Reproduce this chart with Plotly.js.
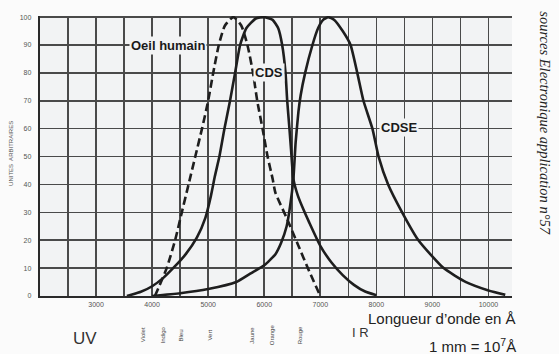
<!DOCTYPE html>
<html>
<head>
<meta charset="utf-8">
<script src="https://cdn.plot.ly/plotly-3.0.1.min.js"></script>
<style>
  html, body { margin: 0; padding: 0; background: #fbfbfb; }
  #chart { width: 559px; height: 354px; }
</style>
</head>
<body>
<div id="chart"></div>
<script>
// ---- data (wavelength in Å, relative response in arbitrary units) ----
const oeilWavelengths = [4050, 4260, 4410, 4530, 4650, 4770, 4890, 5000, 5090, 5190, 5300, 5450, 5590, 5700, 5800, 5875, 5970, 6060, 6150, 6200, 6400, 6600, 6800, 7000];
const oeilValues      = [0,    10,   20,   30,   40,   50,   60,   70,   80,   90,   97,   100,  97,   90,   80,   70,   60,   50,   42,   37,   28,   18.5, 9,    0];

const cdsWavelengths = [3550, 3800, 4000, 4200, 4400, 4600, 4800, 4950, 5050, 5120, 5200, 5290, 5390, 5480, 5570, 5680, 5850, 6000, 6150, 6250, 6320, 6380, 6410, 6450, 6480, 6520, 6600, 6700, 6800, 7000, 7200, 7400, 7600, 7800, 8000];
const cdsValues      = [0,    1.5,  3.5,  6.5,  10.5, 15,   21,   28,   36,   43,   50,   60,   70,   80,   90,   96,   99.5, 100,  99,   96,   90,   80,   70,   60,   52,   42,   36,   31,   26.5, 18,   12,   7.5,  4,    1.6,  0.3];

const cdseWavelengths = [4000, 4500, 5000, 5500, 5750, 6000, 6200, 6300, 6400, 6460, 6520, 6560, 6610, 6650, 6730, 6860, 6960, 7050, 7140, 7250, 7400, 7540, 7660, 7770, 7930, 8040, 8210, 8460, 8750, 9200, 9600, 10000, 10300];
const cdseValues      = [0,    1,    2.5,  5,    8,    11,   15,   19,   25,   32,   42,   55,   66,   72,   80,   90,   96,   99,   100,  99,   95,   90,   80,   70,   60,   50,   40,   30,   20,   10,   5,    2,     0.4];

const xTickVals = [2500, 3000, 3500, 4000, 4500, 5000, 5500, 6000, 6500, 7000, 7500, 8000, 8500, 9000, 9500, 10000];
const xTickText = [' ', '3000', ' ', '4000', ' ', '5000', ' ', '6000', ' ', '7000', ' ', '8000', ' ', '9000', ' ', '10000'];
const yTickVals = [0, 10, 20, 30, 40, 50, 60, 70, 80, 90, 100];
const yTickText = ['0', '10', '20', '30', '40', '50', '60', '70', '80', '90', '100'];

const colourNames       = ['Violet', 'Indigo', 'Bleu', 'Vert', 'Jaune', 'Orange', 'Rouge'];
const colourWavelengths = [3840, 4200, 4520, 5040, 5790, 6140, 6640];

const curveLabels     = ['Oeil humain', 'CDS', 'CDSE'];
const curveLabelX     = [4290, 6090, 8410];
const curveLabelY     = [90, 80, 60.5];

// ---- traces ----
const lineCol = '#1e1e1e';
const traces = [
  { x: oeilWavelengths, y: oeilValues, type: 'scatter', mode: 'lines', name: 'Oeil humain',
    line: { color: lineCol, width: 2.6, dash: '8px,4px', shape: 'spline', smoothing: 0.6 } },
  { x: cdsWavelengths, y: cdsValues, type: 'scatter', mode: 'lines', name: 'CDS',
    line: { color: lineCol, width: 2.6, shape: 'spline', smoothing: 0.5 } },
  { x: cdseWavelengths, y: cdseValues, type: 'scatter', mode: 'lines', name: 'CDSE',
    line: { color: lineCol, width: 2.6, shape: 'spline', smoothing: 0.5 } }
];

// ---- annotations ----
const sans = 'Liberation Sans, Arial, sans-serif';
const annotations = [];
curveLabels.forEach((t, i) => {
  annotations.push({ x: curveLabelX[i], y: curveLabelY[i], xref: 'x', yref: 'y', text: t, showarrow: false,
    xanchor: 'center', yanchor: 'middle',
    font: { family: sans, size: 13, color: '#1a1a1a', weight: 'bold' },
    bgcolor: '#f2f3f4', borderpad: 1 });
});
colourNames.forEach((t, i) => {
  annotations.push({ x: colourWavelengths[i], y: -0.14, xref: 'x', yref: 'paper', text: t, showarrow: false,
    xanchor: 'center', yanchor: 'middle',
    textangle: -90, font: { family: sans, size: 6, color: '#444' } });
});
annotations.push(
  { x: 0.095, y: -0.15, xref: 'paper', yref: 'paper', xanchor: 'center', yanchor: 'middle', text: 'UV', showarrow: false,
    font: { family: sans, size: 17, color: '#333' } },
  { x: 0.678, y: -0.132, xref: 'paper', yref: 'paper', xanchor: 'center', yanchor: 'middle', text: 'I R', showarrow: false,
    font: { family: sans, size: 13, color: '#333' } },
  { x: 1.013, y: -0.08, xref: 'paper', yref: 'paper', xanchor: 'right', yanchor: 'middle', text: 'Longueur d\u2019onde en \u00C5', showarrow: false,
    font: { family: sans, size: 15, color: '#222' } },
  { x: 1.013, y: -0.175, xref: 'paper', yref: 'paper', xanchor: 'right', yanchor: 'middle', text: '1 mm = 10<sup>7</sup>\u00C5', showarrow: false,
    font: { family: sans, size: 15, color: '#222' } },
  { x: -0.06, y: 0.51, xref: 'paper', yref: 'paper', xanchor: 'center', yanchor: 'middle', text: 'UNITES  ARBITRAIRES', showarrow: false,
    textangle: -90, font: { family: sans, size: 6, color: '#555' } },
  { x: 1.07, y: 0.62, xref: 'paper', yref: 'paper', xanchor: 'center', yanchor: 'middle', text: 'sources Electronique application n\u00B057', showarrow: false,
    textangle: 90, font: { family: 'Liberation Serif, Times New Roman, serif', size: 14.5, color: '#222', style: 'italic' } }
);

const layout = {
  width: 559, height: 354,
  margin: { l: 40, r: 47, t: 16, b: 58 },
  paper_bgcolor: '#fbfbfb',
  plot_bgcolor: '#f2f3f4',
  showlegend: false,
  xaxis: {
    range: [2000, 10420], tickmode: 'array', tickvals: xTickVals, ticktext: xTickText,
    showgrid: true, gridcolor: '#4a4a4a', gridwidth: 1.6, zeroline: false,
    showline: true, linecolor: '#2a2a2a', linewidth: 2.2, ticks: '', ticklabelstandoff: 0,
    tickfont: { family: sans, size: 7, color: '#555' }
  },
  yaxis: {
    range: [0, 100.4], tickmode: 'array', tickvals: yTickVals, ticktext: yTickText,
    showgrid: true, gridcolor: '#4a4a4a', gridwidth: 1.6, zeroline: false,
    showline: true, linecolor: '#2a2a2a', linewidth: 2.2, ticks: '', ticklabelstandoff: 5,
    tickfont: { family: sans, size: 7, color: '#555' }
  },
  annotations: annotations
};

Plotly.newPlot('chart', traces, layout, { displayModeBar: false, staticPlot: true });
</script>
</body>
</html>
